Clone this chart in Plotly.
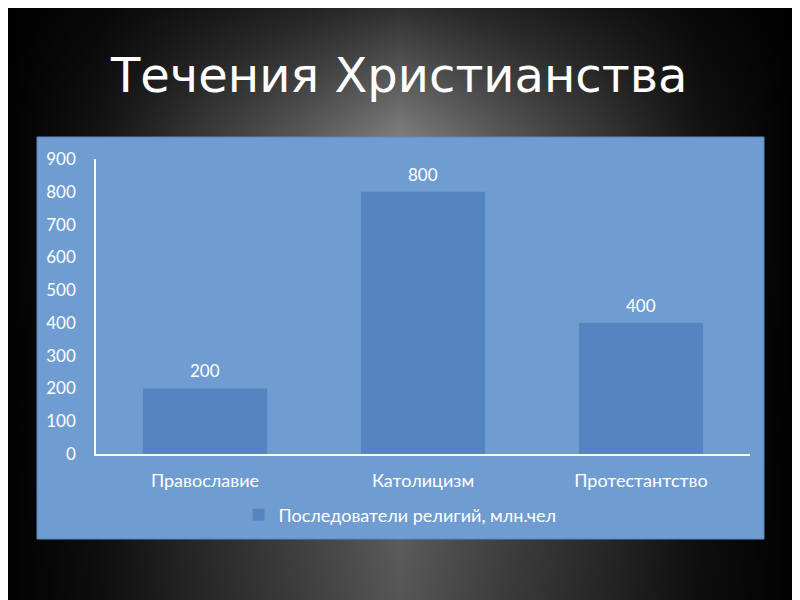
import base64
import plotly.graph_objects as go

categories = ["Православие", "Католицизм", "Протестантство"]
values = [200, 800, 400]
series_name = "Последователи религий, млн.чел"
title_text = "Течения Христианства"
y_ticks = [0, 100, 200, 300, 400, 500, 600, 700, 800, 900]

W, H = 800, 600
OFF = 8  # page offset of the figure in the browser window
L, R, T, B = 96 - OFF, 800 - 750 + OFF, 159 - OFF, 600 - 454 + OFF
pw, ph = W - L - R, H - T - B

def fx(x):
    return (x - OFF - L) / pw

def fy(y):
    return (H - B - (y - OFF)) / ph

svg = f'''<svg xmlns="http://www.w3.org/2000/svg" width="{W}" height="{H}">
<defs>
<linearGradient id="h" x1="{-OFF}" y1="0" x2="{800 - OFF}" y2="0" gradientUnits="userSpaceOnUse">
<stop offset="0" stop-color="#000"/><stop offset="0.125" stop-color="#131313"/>
<stop offset="0.25" stop-color="#363636"/><stop offset="0.375" stop-color="#565656"/>
<stop offset="0.5" stop-color="#7b7b7b"/><stop offset="0.625" stop-color="#565656"/>
<stop offset="0.75" stop-color="#363636"/><stop offset="0.875" stop-color="#131313"/>
<stop offset="1" stop-color="#000"/></linearGradient>
<linearGradient id="v" x1="0" y1="{-OFF}" x2="0" y2="{600 - OFF}" gradientUnits="userSpaceOnUse">
<stop offset="0" stop-color="#000" stop-opacity="0.65"/>
<stop offset="0.22" stop-color="#000" stop-opacity="0"/>
<stop offset="1" stop-color="#000" stop-opacity="0.3"/></linearGradient>
</defs>
<rect width="{W}" height="{H}" fill="url(#h)"/>
<rect width="{W}" height="{H}" fill="url(#v)"/></svg>'''
uri = "data:image/svg+xml;base64," + base64.b64encode(svg.encode()).decode()

axis_font = dict(family="Lato, Open Sans, sans-serif", size=18, color="white")
ytick_font = dict(family="Lato, Open Sans, sans-serif", size=17, color="white")

fig = go.Figure()
fig.add_trace(go.Bar(
    x=categories, y=values, name=series_name,
    marker=dict(color="#5585c1", line=dict(width=0)),
    showlegend=True,
))

annotations = [
    dict(x=c, y=v, xref="x", yref="y", text=str(v), showarrow=False,
         yanchor="bottom", yshift=5, font=ytick_font)
    for c, v in zip(categories, values)
]
annotations.append(dict(
    x=fx(398), y=fy(75), xref="paper", yref="paper", text=title_text,
    showarrow=False, xanchor="center", yanchor="middle",
    font=dict(family="DejaVu Sans, sans-serif", size=48, color="white"),
))

fig.update_layout(
    width=W, height=H,
    margin=dict(l=L, r=R, t=T, b=B, pad=0),
    paper_bgcolor="black",
    plot_bgcolor="rgba(0,0,0,0)",
    bargap=0.43,
    images=[dict(source=uri, xref="paper", yref="paper",
                 x=-L / pw, y=1 + T / ph, sizex=W / pw, sizey=H / ph,
                 xanchor="left", yanchor="top", sizing="stretch", layer="below")],
    shapes=[dict(type="rect", xref="paper", yref="paper",
                 x0=fx(37), x1=fx(764), y0=fy(539), y1=fy(137),
                 fillcolor="#709dd1", line=dict(color="#5b88bd", width=1), layer="below")],
    annotations=annotations,
    legend=dict(orientation="h", x=fx(400), xanchor="center", y=fy(515), yanchor="middle",
                font=axis_font, bgcolor="rgba(0,0,0,0)", itemwidth=30),
    xaxis=dict(showline=True, linecolor="white", linewidth=1.5, showgrid=False,
               ticks="", tickfont=axis_font, ticklabelstandoff=10, zeroline=False),
    yaxis=dict(range=[0, 900], tickvals=y_ticks, showline=True, linecolor="white",
               linewidth=1.5, showgrid=False, ticks="", tickfont=ytick_font,
               ticklabelstandoff=15, zeroline=False),
)

fig.write_html("out.html")
